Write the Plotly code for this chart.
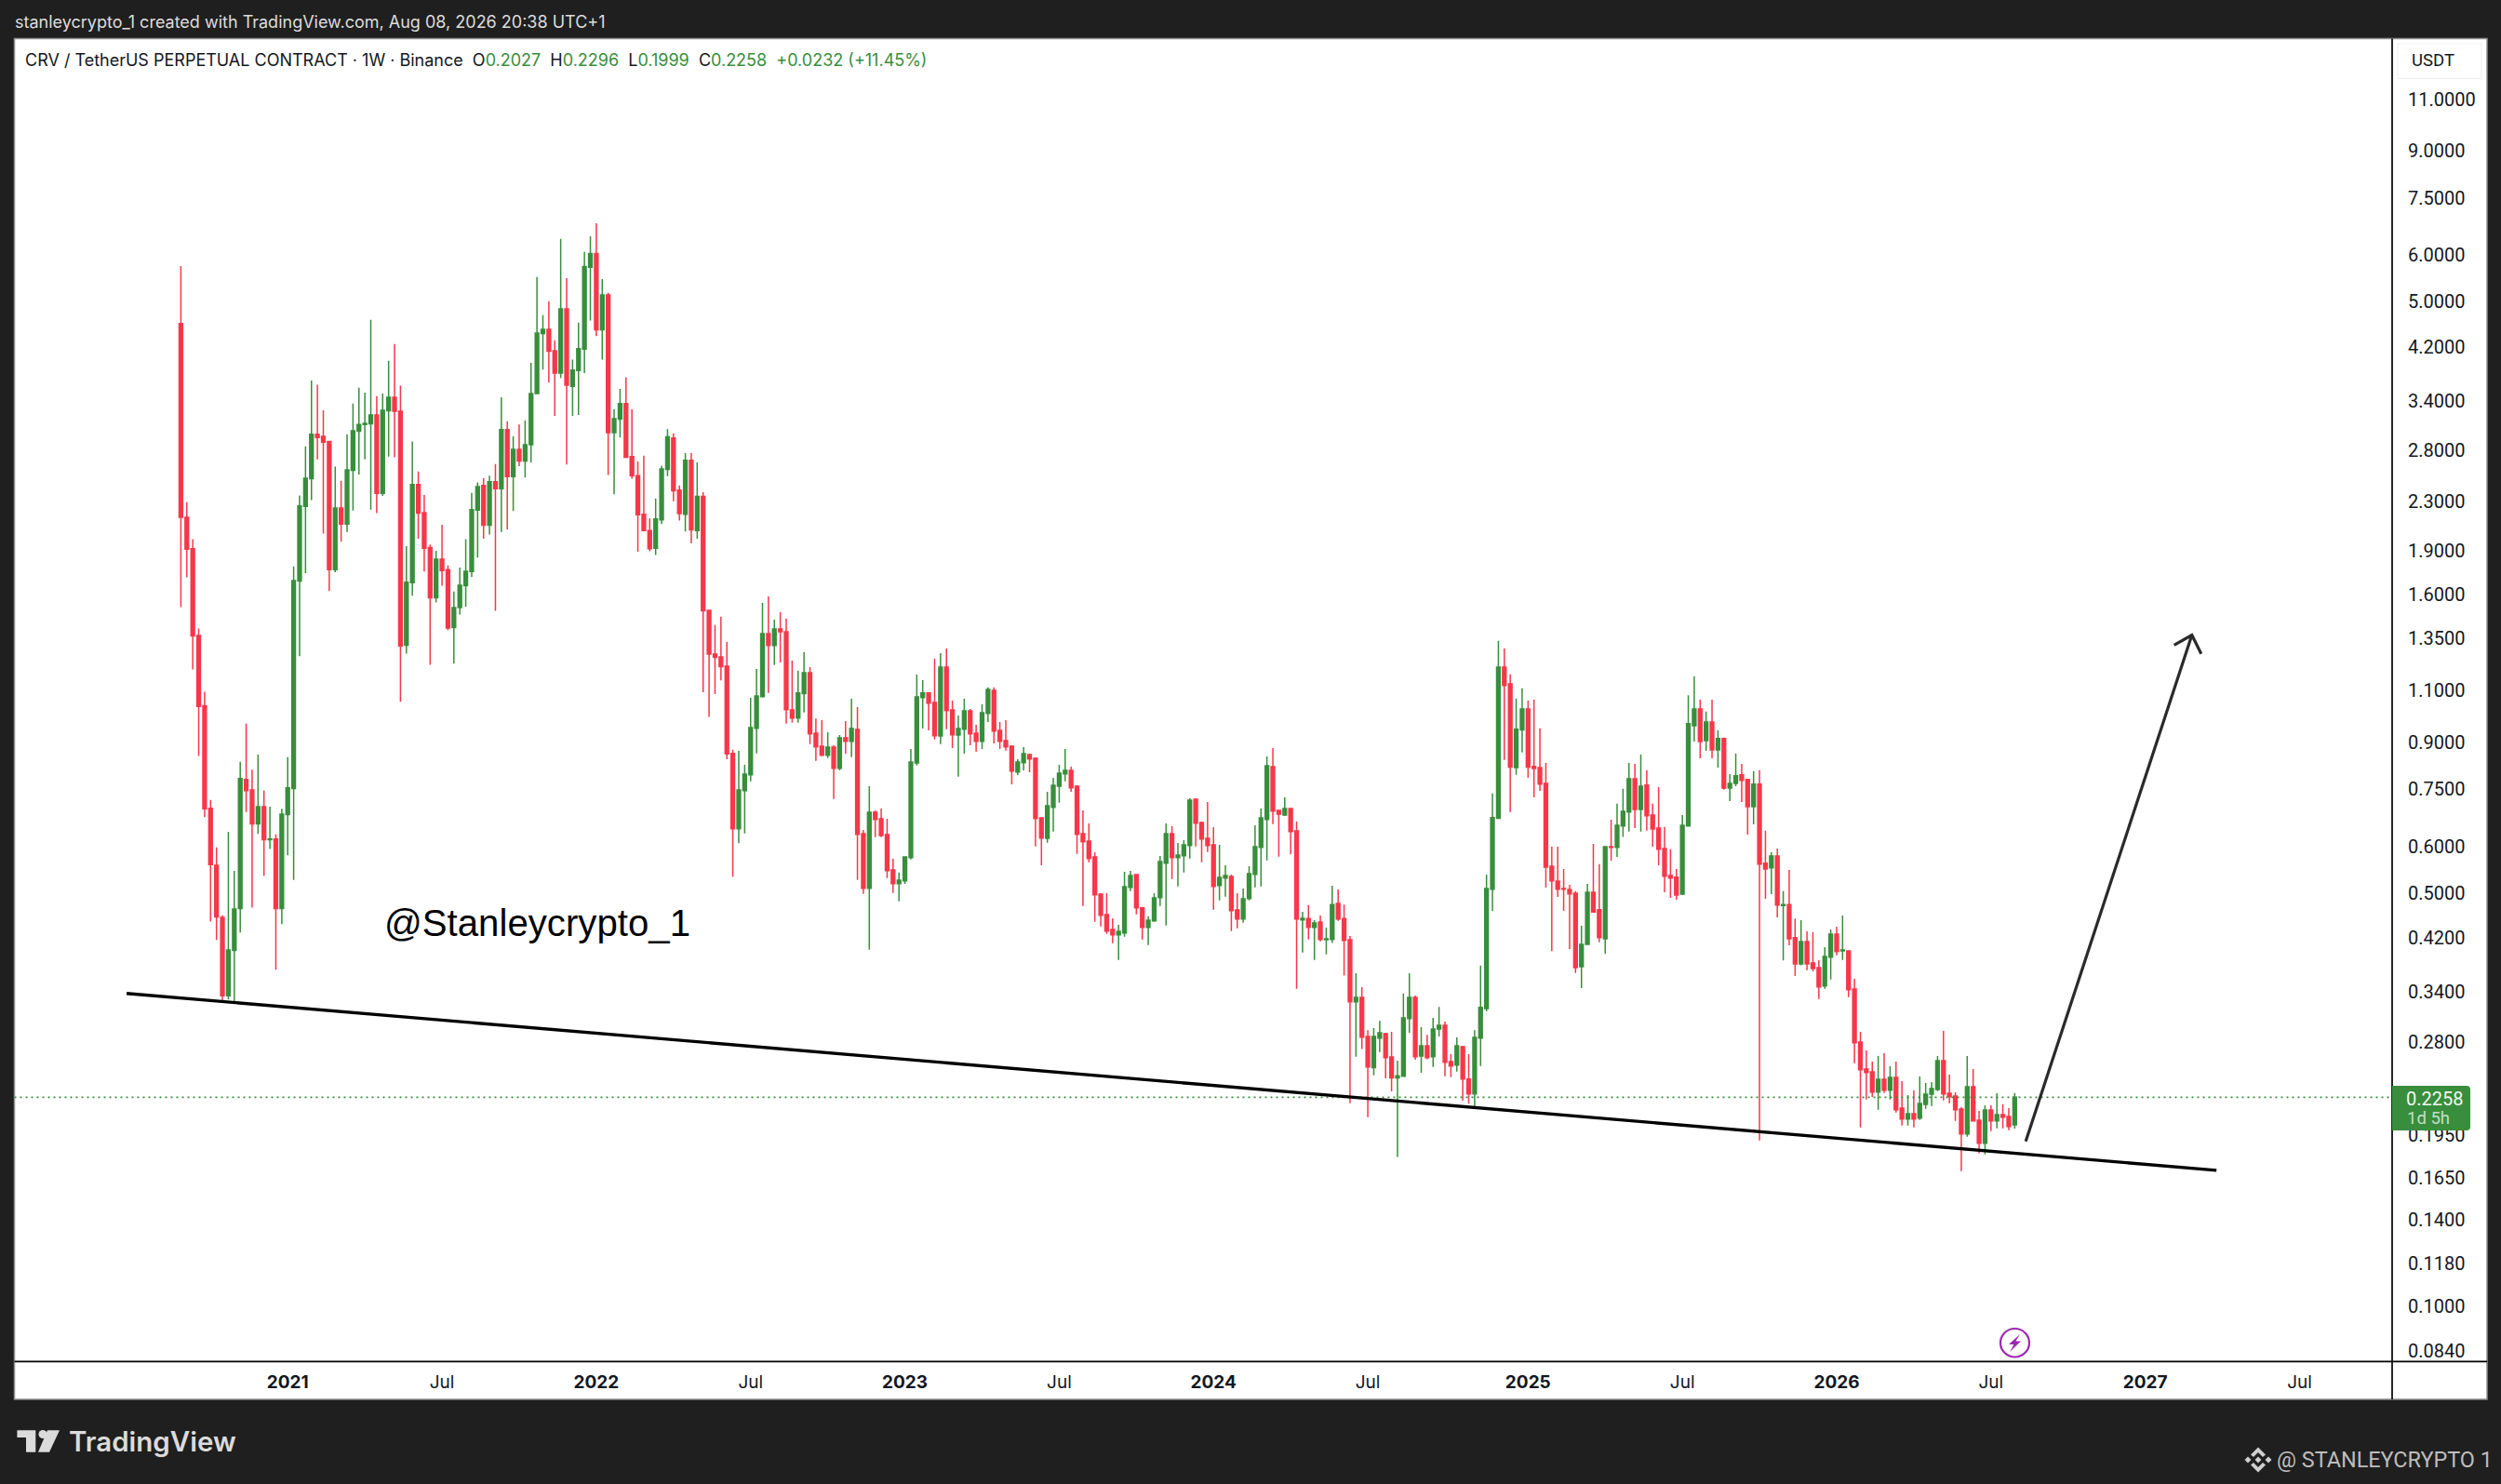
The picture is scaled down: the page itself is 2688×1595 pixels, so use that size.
import numpy as np
import pandas as pd
import plotly.graph_objects as go

# weekly bars
opens = [
    4.595, 2.161, 1.912, 1.364, 1.037, .6958, .5574, .4548, .3352, .4001, .4708, .7782, .7472, .6546, .7001, .6159, .6171, .4708, .6790, .7517, 1.686, 2.255, 2.512, 2.986, 2.961, 2.902, 1.763, 2.241, 2.104, 2.595, 3.022, 3.103, 3.110, 3.219, 2.372,
    3.272, 3.449, 3.265, 1.313, 1.675, 2.456, 2.200, 1.920, 1.579, 1.836, 1.763, 1.407, 1.520, 1.655, 1.749, 2.223, 2.446, 2.096, 2.481, 2.416, 3.041, 2.532, 2.815, 2.691, 2.867, 3.499, 4.421, 4.494, 4.134, 3.788, 4.865, 3.600, 3.827, 4.159, 5.724,
    6.035, 4.485, 5.139, 3.004, 3.167, 3.366, 2.736, 2.542, 2.187, 2.053, 1.916, 2.139, 2.605, 2.943, 2.402, 2.187, 2.697, 2.053, 2.344, 1.504, 1.268, 1.255, 1.210, .8615, .6427, .7456, .7930, .9505, 1.075, 1.374, 1.312, 1.399, 1.384, 1.021, .9892,
    1.087, 1.180, .9323, .8862, .8557, .8830, .8133, .9156, .9035, .9459, .6303, .5096, .6851, .6680, .6280, .5472, .5189, .5246, .5743, .8302, 1.071, 1.090, 1.051, .9222, 1.206, 1.021, .9256, .9471, 1.017, .9323, .9035, 1.007, 1.101, .9425, .9057,
    .8862, .8016, .8312, .8577, .8454, .6704, .6190, .6985, .7583, .7958, .8065, .7583, .6303, .6123, .5757, .4980, .4598, .4339, .4251, .4282, .5114, .5374, .4722, .4376, .4489, .4914, .5620, .6303, .5743, .5785, .6020, .7208, .6583, .6190, .6035,
    .5152, .5303, .5335, .4683, .4521, .4897, .5381, .5977, .6663, .8183, .6901, .6777, .6951, .6372, .4505, .4531, .4376, .4467, .4171, .4176, .4803, .4531, .4171, .3274, .3330, .2862, .2534, .2843, .2892, .2641, .2434, .2450, .3069, .3330, .2651,
    .2760, .2645, .2945, .2987, .2594, .2560, .2749, .2425, .2288, .2843, .3191, .5078, .6690, 1.206, 1.130, .8156, .9440, 1.024, .8187, .8156, .7664, .5552, .5238, .5091, .5071, .5000, .3756, .4096, .5019, .4686, .4187, .5993, .5978, .6494, .6857,
    .7804, .6928, .7615, .6777, .6444, .5947, .5355, .5320, .4980, .6494, .9601, 1.024, .9057, .9738, .8735, .9128, .7527, .7664, .7927, .7784, .7000, .7645, .5618, .5517, .5780, .4766, .4784, .4204, .3795, .4139, .3810, .3741, .3483, .3898, .4262,
    .3993, .3993, .3442, .2799, .2520, .2493, .2304, .2421, .2321, .2439, .2164, .2075, .2118, .2082, .2196, .2285, .2327, .2604, .2293, .2269, .2156, .1958, .2352, .2065, .1888, .2148, .2060, .2110, .2095, .2027,
]
highs = [
    5.748, 2.292, 1.984, 1.401, 1.095, .7188, .5974, .4586, .6349, .5451, .8339, .9674, .8088, .8580, .7456, .7001, .6285, .6944, .8493, 1.785, 2.353, 2.849, 3.681, 3.622, 3.278, 2.902, 2.632, 2.491, 2.986, 3.366, 3.578, 3.513, 4.661, 3.464, 3.499,
    3.977, 4.245, 3.607, 1.932, 2.902, 2.584, 2.358, 1.944, 1.897, 2.100, 1.792, 1.619, 1.777, 1.984, 2.377, 2.476, 2.517, 2.542, 2.659, 3.449, 3.141, 2.961, 3.103, 3.154, 3.945, 5.507, 4.747, 5.015, 4.306, 6.389, 5.485, 3.994, 4.614, 6.072, 6.454,
    6.791, 5.463, 5.181, 3.292, 3.564, 3.727, 3.292, 2.686, 2.747, 2.152, 2.325, 2.643, 3.047, 2.998, 2.446, 2.775, 2.775, 2.675, 2.382, 1.504, 1.421, 1.468, 1.331, .8739, .8703, .8242, 1.070, 1.197, 1.549, 1.588, 1.451, 1.493, 1.456, 1.237, 1.189,
    1.278, 1.206, .9868, .9808, .9357, .8894, .9256, .9773, 1.066, 1.032, .6395, .7583, .6901, .6951, .6680, .5716, .5420, .5757, .8766, 1.171, 1.146, 1.090, 1.246, 1.273, 1.297, 1.058, .9988, 1.066, 1.024, .9632, 1.043, 1.114, 1.114, .9738, .9808,
    .8894, .8423, .8830, .8609, .8485, .6704, .7420, .7834, .8242, .8766, .8183, .7610, .6901, .6560, .5862, .4998, .4998, .4532, .4419, .5433, .5452, .5374, .4739, .4571, .4998, .5778, .6560, .6489, .6079, .6145, .7234, .7234, .6607, .7130, .6465,
    .6035, .5572, .5374, .4998, .5090, .5552, .6512, .6951, .8515, .8798, .6901, .7260, .6951, .6607, .4649, .4772, .4502, .4584, .4370, .5144, .5071, .4784, .4231, .3660, .3466, .2933, .2956, .3041, .2903, .2914, .2604, .3382, .3660, .3356, .2967,
    .2880, .3077, .3211, .3033, .2672, .2851, .2760, .2672, .2933, .3770, .5376, .7372, 1.336, 1.296, 1.172, 1.066, 1.110, 1.058, 1.062, .9502, .8305, .5993, .5993, .5495, .5164, .5039, .4404, .5184, .6056, .5596, .5993, .6656, .7082, .7507, .8305,
    .8273, .8578, .8072, .7082, .7556, .6469, .5931, .5495, .6777, 1.081, 1.163, 1.062, 1.014, 1.062, .9428, .9163, .7947, .8611, .8273, .7804, .8040, .8072, .6377, .5863, .5947, .5039, .5474, .4531, .4502, .4308, .4292, .3851, .4051, .4340, .4388,
    .4583, .3993, .3582, .2913, .2709, .2594, .2651, .2680, .2548, .2594, .2404, .2277, .2318, .2448, .2387, .2395, .2651, .2924, .2466, .2302, .2172, .2651, .2520, .2141, .2188, .2188, .2293, .2196, .2164, .2296,
]
lows = [
    1.523, 1.710, 1.195, .8528, .6722, .4475, .4167, .3265, .3305, .3271, .4288, .6860, .4728, .6298, .5352, .5937, .3711, .4430, .5794, .5266, 1.258, 1.738, 2.311, 2.708, 2.029, 1.622, 1.745, 1.964, 2.041, 2.218, 2.553, 2.708, 2.227, 2.196, 2.348,
    2.736, 2.730, 1.054, 1.271, 1.592, 1.988, 1.749, 1.217, 1.551, 1.655, 1.392, 1.222, 1.480, 1.526, 1.713, 1.847, 1.988, 2.020, 1.501, 2.041, 2.062, 2.214, 2.637, 2.522, 2.675, 3.492, 3.842, 3.652, 3.206, 3.719, 2.653, 3.206, 3.219, 3.788, 4.652,
    4.376, 3.994, 2.548, 2.363, 2.949, 2.724, 2.512, 1.889, 2.053, 1.893, 1.866, 2.104, 2.537, 2.301, 2.134, 2.045, 1.952, 1.988, 1.093, .9933, 1.086, 1.145, .8424, .5330, .6072, .6311, .7731, .8619, 1.071, 1.090, 1.216, 1.228, .9679, .9714, .9714,
    1.011, .8937, .8373, .8526, .8464, .7216, .8075, .8609, .8495, .5265, .4986, .4012, .6220, .6220, .5303, .5004, .4844, .5183, .5702, .8222, .9494, .9425, .9101, .8937, .9471, .8798, .7872, .8609, .8894, .8671, .8766, .9738, .8959, .8766, .8713,
    .7638, .7920, .8065, .8007, .5999, .5572, .6086, .6357, .7113, .7731, .7420, .5827, .4757, .5640, .4472, .4392, .4267, .4115, .3855, .4220, .5041, .4604, .4175, .4085, .4472, .4757, .4408, .5284, .5133, .5420, .5722, .5999, .5640, .5870, .4688,
    .4861, .4932, .4313, .4360, .4456, .4861, .5114, .5133, .5681, .6544, .5764, .6753, .5813, .3445, .3968, .4176, .3854, .4144, .3940, .4117, .4490, .3627, .2206, .2645, .2724, .2089, .2460, .2693, .2431, .2311, .1789, .2444, .2903, .2614, .2485,
    .2617, .2541, .2862, .2450, .2441, .2495, .2229, .2203, .2181, .2550, .3154, .4668, .6690, .8402, .6857, .7927, .8645, .7835, .7259, .7449, .5111, .3991, .4929, .4668, .4023, .3665, .3453, .4096, .4632, .4128, .3950, .5676, .5757, .6222, .6353,
    .6444, .6353, .6377, .5993, .5574, .5019, .4910, .4872, .4961, .6494, .9022, .8457, .8701, .8457, .8156, .7478, .7156, .7585, .7128, .6279, .6536, .1908, .4891, .4980, .4549, .3849, .4080, .3622, .3775, .3703, .3688, .3311, .3446, .3573, .3926,
    .3856, .3335, .2578, .2008, .2239, .2260, .2151, .2296, .2239, .2128, .2023, .2023, .2008, .2067, .2159, .2183, .2313, .2230, .2206, .2060, .1693, .1936, .2060, .1814, .1808, .1979, .2001, .2001, .1986, .1999,
]
closes = [
    2.161, 1.908, 1.362, 1.035, .6944, .5586, .4558, .3352, .4009, .4699, .7814, .7456, .6546, .7001, .6159, .6171, .4708, .6804, .7533, 1.689, 2.259, 2.517, 2.986, 2.949, 2.896, 1.763, 2.241, 2.104, 2.600, 3.028, 3.103, 3.116, 3.219, 2.372, 3.278,
    3.449, 3.265, 1.310, 1.679, 2.456, 2.196, 1.916, 1.579, 1.836, 1.756, 1.404, 1.520, 1.659, 1.752, 2.227, 2.436, 2.096, 2.481, 2.416, 3.041, 2.532, 2.815, 2.691, 2.867, 3.499, 4.430, 4.494, 4.126, 3.788, 4.865, 3.615, 3.834, 4.168, 5.736, 6.035,
    4.485, 5.139, 3.004, 3.173, 3.366, 2.730, 2.542, 2.183, 2.053, 1.912, 2.147, 2.610, 2.955, 2.397, 2.192, 2.697, 2.058, 2.344, 1.501, 1.268, 1.253, 1.208, .8597, .6427, .7472, .7949, .9528, 1.078, 1.374, 1.312, 1.399, 1.384, 1.022, .9892, 1.090,
    1.180, .9301, .8840, .8557, .8830, .8133, .9156, .9035, .9494, .6288, .5096, .6851, .6663, .6258, .5459, .5189, .5258, .5757, .8332, 1.074, 1.090, 1.048, .9233, 1.206, 1.018, .9267, .9494, 1.017, .9301, .9035, 1.010, 1.105, .9402, .9035, .8840,
    .8045, .8332, .8609, .8434, .6688, .6197, .7027, .7610, .7978, .8065, .7537, .6288, .6108, .5722, .4968, .4587, .4313, .4251, .4308, .5127, .5355, .4722, .4376, .4500, .4908, .5654, .6303, .5743, .5799, .6035, .7182, .6567, .6175, .6020, .5133,
    .5316, .5355, .4671, .4521, .4891, .5394, .5991, .6704, .8212, .6884, .6802, .6951, .6357, .4521, .4532, .4376, .4450, .4176, .4187, .4784, .4520, .4160, .3274, .3330, .2854, .2541, .2862, .2903, .2634, .2434, .2456, .3077, .3330, .2645, .2760,
    .2634, .2945, .2987, .2587, .2550, .2760, .2425, .2288, .2851, .3203, .5091, .6708, 1.206, 1.123, .8166, .9465, 1.024, .8166, .8124, .7645, .5531, .5245, .5078, .5078, .4987, .3741, .4096, .5019, .4644, .4204, .5993, .5978, .6511, .6875, .7804,
    .6928, .7585, .6760, .6419, .5931, .5341, .5300, .4961, .6511, .9675, 1.024, .9022, .9738, .8735, .9128, .7527, .7664, .7896, .7754, .7000, .7645, .5596, .5495, .5780, .4772, .4784, .4187, .3795, .4139, .3795, .3727, .3471, .3907, .4262, .3983,
    .4008, .3433, .2793, .2514, .2487, .2304, .2421, .2321, .2439, .2151, .2075, .2118, .2075, .2204, .2285, .2335, .2604, .2288, .2263, .2151, .1958, .2352, .2060, .1888, .2148, .2060, .2110, .2090, .2015, .2258,
]
first_bar = "2020-08-31"
last_price = 0.2258

y_ticks = [11, 9, 7.5, 6, 5, 4.2, 3.4, 2.8, 2.3, 1.9, 1.6, 1.35, 1.1, .9, .75, .6, .5, .42, .34, .28, .195, .165, .14, .118, .1, .084]
x_tick_dates = ["2021-01-04", "2021-07-05", "2022-01-03", "2022-07-04", "2023-01-02", "2023-07-03", "2024-01-01",
                "2024-07-01", "2025-01-06", "2025-07-07", "2026-01-05", "2026-07-06", "2027-01-04", "2027-07-05"]
x_tick_labels = ["2021", "Jul", "2022", "Jul", "2023", "Jul", "2024", "Jul", "2025", "Jul", "2026", "Jul", "2027", "Jul"]

# the two drawings
trend_dates = ["2020-06-28", "2027-03-29"]
trend_prices = [.3383, .1699]
arrow_dates = ["2026-08-16", "2027-02-28", "2027-02-07", "2027-02-28", "2027-03-11"]
arrow_prices = [.1902, 1.366, 1.314, 1.366, 1.270]

W, H = 2688, 1595
DARK = "#1f1f1f"
GREEN = "#388e3c"
RED = "#f7374a"
TEXT = "#131722"
FONT = "Inter"
SCALE_FONT = "Roboto"

PANEL_L, PANEL_R, PANEL_T, PANEL_B = 15.5, 2673, 41.5, 1504
AXIS_X, AXIS_Y = 2571, 1463.3


def px(x):
    return x / W


def py(y):
    return 1 - y / H


def path(points, close=True):
    d = "M " + " L ".join(f"{px(x):.5f},{py(y):.5f}" for x, y in points)
    return d + (" Z" if close else "")


def label(text, x, y, size, color=TEXT, anchor="left", family=FONT, weight=None):
    fig.add_annotation(text=text, xref="paper", yref="paper", x=px(x), y=py(y), xanchor=anchor, yanchor="middle",
                       showarrow=False, borderpad=0,
                       font=dict(family=family, size=size, color=color, weight=weight))


dates = pd.date_range(first_bar, periods=len(opens), freq="7D")
start = pd.Timestamp(first_bar)

fig = go.Figure()
fig.add_trace(go.Candlestick(
    x=dates, open=opens, high=highs, low=lows, close=closes,
    increasing=dict(line=dict(color=GREEN, width=1.5), fillcolor=GREEN),
    decreasing=dict(line=dict(color=RED, width=1.5), fillcolor=RED),
    whiskerwidth=0,
    hoverinfo="skip",
))
fig.add_trace(go.Scatter(x=[start - pd.Timedelta(weeks=28.05), start + pd.Timedelta(weeks=372.6)],
                         y=[last_price, last_price], mode="lines",
                         line=dict(color=GREEN, width=1.8, dash="2px 4px"), hoverinfo="skip"))
fig.add_trace(go.Scatter(x=trend_dates, y=trend_prices, mode="lines", line=dict(color="black", width=3.4),
                         hoverinfo="skip"))
fig.add_trace(go.Scatter(x=arrow_dates, y=arrow_prices, mode="lines", line=dict(color="#2a2a2a", width=3.2),
                         hoverinfo="skip"))

shapes = [
    # white panel and its frame
    dict(type="rect", xref="paper", yref="paper", x0=px(PANEL_L), x1=px(PANEL_R), y0=py(PANEL_B), y1=py(PANEL_T),
         fillcolor="white", line=dict(color="#8f8f8f", width=1.5), layer="below"),
    dict(type="line", xref="paper", yref="paper", x0=px(AXIS_X), x1=px(AXIS_X), y0=py(PANEL_B), y1=py(PANEL_T),
         line=dict(color="black", width=1.7)),
    dict(type="line", xref="paper", yref="paper", x0=px(PANEL_L), x1=px(PANEL_R), y0=py(AXIS_Y), y1=py(AXIS_Y),
         line=dict(color="black", width=1.7)),
    # USDT button
    dict(type="rect", xref="paper", yref="paper", x0=px(2577), x1=px(2667), y0=py(84.5), y1=py(47),
         line=dict(color="#eeeeee", width=1)),
    # last price tag
    dict(type="path", xref="paper", yref="paper", fillcolor=GREEN, line=dict(width=0),
         path=f"M {px(AXIS_X)},{py(1167)} L {px(2651)},{py(1167)} Q {px(2655)},{py(1167)} {px(2655)},{py(1171)} "
              f"L {px(2655)},{py(1211)} Q {px(2655)},{py(1215)} {px(2651)},{py(1215)} L {px(AXIS_X)},{py(1215)} Z"),
    # purple bolt badge
    dict(type="circle", xref="paper", yref="paper", x0=px(2150), x1=px(2181), y0=py(1458.5), y1=py(1428),
         line=dict(color="#9c27b0", width=2.2)),
    dict(type="path", xref="paper", yref="paper", fillcolor="#9c27b0", line=dict(width=0),
         path=path([(2171, 1434), (2159, 1445), (2164.5, 1445), (2160, 1453), (2172, 1441.5), (2166.5, 1441.5)])),
    # TradingView logo
    dict(type="path", xref="paper", yref="paper", fillcolor="#dbdbdb", line=dict(width=0),
         path=path([(18.4, 1537.3), (38.3, 1537.3), (38.3, 1560.7), (28, 1560.7), (28, 1545), (18.4, 1545)])),
    dict(type="circle", xref="paper", yref="paper", fillcolor="#dbdbdb", line=dict(width=0),
         x0=px(41.5), x1=px(50.5), y0=py(1546), y1=py(1537)),
    dict(type="path", xref="paper", yref="paper", fillcolor="#dbdbdb", line=dict(width=0),
         path=path([(51, 1537.3), (64, 1537.3), (53, 1560.7), (41, 1560.7)])),
]
# Binance mark in the bottom right corner
cx, cy = 2427, 1569
for dx, dy in [(0, 0), (-11, 0), (11, 0)]:
    r = 3.5
    shapes.append(dict(type="path", xref="paper", yref="paper", fillcolor="#cfcfcf", line=dict(width=0),
                       path=path([(cx + dx, cy + dy - r), (cx + dx + r, cy + dy), (cx + dx, cy + dy + r),
                                  (cx + dx - r, cy + dy)])))
for s in (-1, 1):
    shapes.append(dict(type="path", xref="paper", yref="paper", fillcolor="#cfcfcf", line=dict(width=0),
                       path=path([(cx, cy + s * 13.5), (cx + 8, cy + s * 5.5), (cx + 5, cy + s * 3), (cx, cy + s * 8),
                                  (cx - 5, cy + s * 3), (cx - 8, cy + s * 5.5)])))

fig.update_layout(
    width=W, height=H, margin=dict(l=0, r=0, t=0, b=0), autosize=False,
    paper_bgcolor=DARK, plot_bgcolor="white", showlegend=False, hovermode=False,
    font=dict(family=FONT, color=TEXT),
    boxgap=0.3, boxgroupgap=0.15,
    shapes=shapes,
    xaxis=dict(
        domain=[px(PANEL_L), px(AXIS_X)], type="date", rangeslider_visible=False, showgrid=False, zeroline=False,
        range=[start - pd.Timedelta(weeks=28.05), start + pd.Timedelta(weeks=372.6)],
        tickmode="array", tickvals=x_tick_dates,
        ticktext=[f"<b>{t}</b>" if t != "Jul" else t for t in x_tick_labels],
        ticks="outside", ticklen=5, tickcolor="rgba(0,0,0,0)", tickfont=dict(family=FONT, size=19, color=TEXT),
    ),
    yaxis=dict(
        domain=[py(AXIS_Y), py(PANEL_T)], type="log", side="right", showgrid=False, zeroline=False,
        range=[np.log10(0.0807), np.log10(13.94)],
        tickmode="array", tickvals=y_ticks, ticktext=[f"{v:.4f}" for v in y_ticks],
        ticks="outside", ticklen=12, tickcolor="rgba(0,0,0,0)", tickfont=dict(family=SCALE_FONT, size=20, color=TEXT),
    ),
)

sp = "\u00a0"
g = lambda s: f'<span style="color:{GREEN}">{s}</span>'
label("stanleycrypto_1 created with TradingView.com, Aug 08, 2026 20:38 UTC+1", 15, 24, 18, "#dddddd")
label(f"CRV / TetherUS PERPETUAL CONTRACT · 1W · Binance{sp}{sp}O{g('0.2027')}{sp}{sp}H{g('0.2296')}{sp}{sp}"
      f"L{g('0.1999')}{sp}{sp}C{g('0.2258')}{sp}{sp}{g('+0.0232 (+11.45%)')}", 26, 64, 18)
label("@Stanleycrypto_1", 412, 992, 40.2, "black", family="Liberation Sans")
label("USDT", 2615, 65.5, 18.5, anchor="center", family=SCALE_FONT)
label("0.2258", 2585, 1181, 20, "#f2f8f2", family=SCALE_FONT)
label("1d 5h", 2586, 1201.7, 18.5, "#c6dfc8", family=SCALE_FONT)
label("TradingView", 73, 1549, 29.5, "#dbdbdb", weight=600)
label("@ STANLEYCRYPTO 1", 2446, 1569, 23.4, "#bdbdbd", family="Roboto")

fig.write_html("out.html", config={"displayModeBar": False}, post_script="document.body.style.margin='0';")
